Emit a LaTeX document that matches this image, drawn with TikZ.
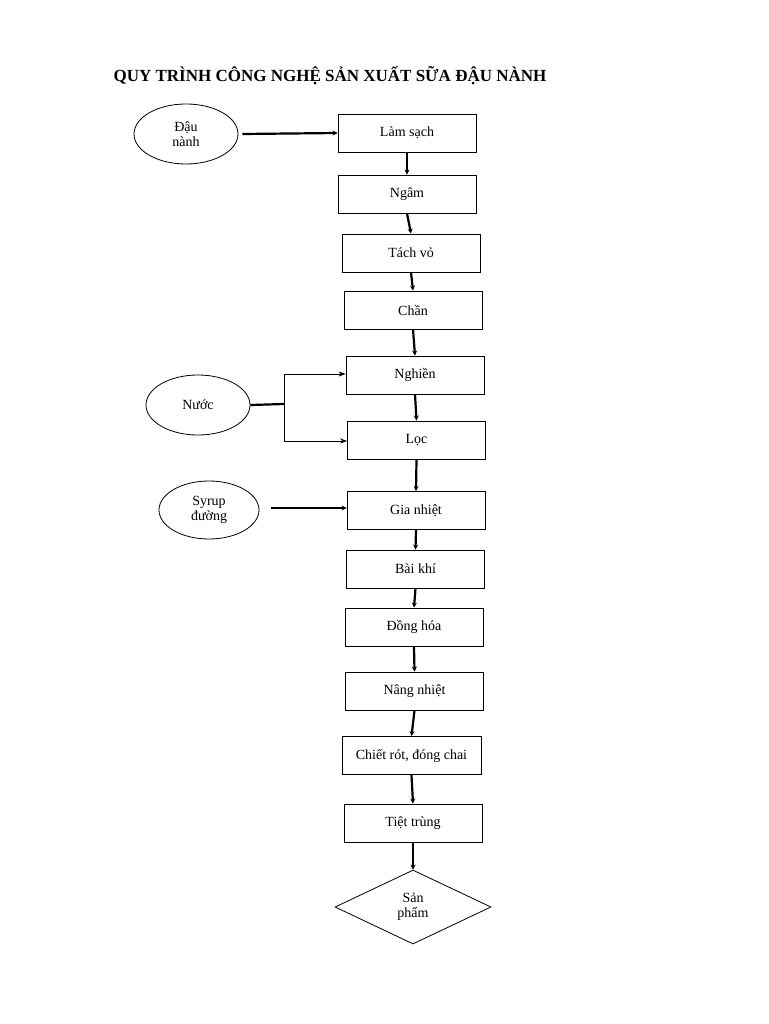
\documentclass[tikz,border=0pt]{standalone}
\usepackage{fontspec}
\setmainfont{Liberation Serif}
\usetikzlibrary{shapes.geometric,arrows.meta}
\begin{document}
\begin{tikzpicture}[x=1pt,y=-1pt,
  box/.style={draw,line width=0.8pt,minimum width=138pt,minimum height=38pt,inner sep=0pt,font=\fontsize{14}{16}\selectfont},
  ell/.style={draw,ellipse,line width=0.8pt,inner sep=0pt,align=center,font=\fontsize{14}{15}\selectfont},
  thk/.style={line width=2.2pt,-{Stealth[length=5pt,width=5pt]}},
  thn/.style={line width=0.6pt,-{Stealth[length=7pt,width=5pt]}}]
\useasboundingbox (0,0) rectangle (768,1024);
\node[anchor=base west,font=\bfseries\fontsize{17}{19}\selectfont] (title) at (110,82) {QUY TRÌNH CÔNG NGHỆ SẢN XUẤT SỮA ĐẬU NÀNH};
\node[box] (b1) at (407,133) {Làm sạch};
\node[box] (b2) at (407,194) {Ngâm};
\node[box] (b3) at (411,253) {Tách vỏ};
\node[box] (b4) at (413,310) {Chần};
\node[box] (b5) at (415,375) {Nghiền};
\node[box] (b6) at (416.5,440) {Lọc};
\node[box] (b7) at (416,510.5) {Gia nhiệt};
\node[box] (b8) at (415.5,569) {Bài khí};
\node[box] (b9) at (414,627) {Đồng hóa};
\node[box] (b10) at (414.5,691) {Nâng nhiệt};
\node[box,minimum width=139pt] (b11) at (411.5,755.5) {Chiết rót, đóng chai};
\node[box] (b12) at (413,823) {Tiệt trùng};
\node[draw,diamond,aspect=2.1,line width=0.8pt,minimum width=156pt,minimum height=74pt,inner sep=0pt,align=center,font=\fontsize{14}{15}\selectfont] (sp) at (413,907) {Sản\\phẩm};
\node[ell,minimum width=104pt,minimum height=60pt] (e1) at (186,134) {Đậu\\nành};
\node[ell,minimum width=104pt,minimum height=60pt] (e2) at (198,405) {Nước};
\node[ell,minimum width=100pt,minimum height=58pt] (e3) at (209,510) {Syrup\\đường};
\foreach \a/\b in {b1/b2,b2/b3,b3/b4,b4/b5,b5/b6,b6/b7,b7/b8,b8/b9,b9/b10,b10/b11,b11/b12,b12/sp}
  \draw[thk] (\a.south) -- (\b.north);
\draw[thk] ([xshift=4pt]e1.east) -- (b1.west);
\draw[thk] ([xshift=12pt]e3.east |- 0,508) -- (b7.west |- 0,508);
\coordinate (j) at (284,404);
\draw[line width=2.2pt] (e2.east) -- (j);
\draw[line width=0.6pt] (284,375) -- (284,441);
\draw[thn] (284,374) -- (b5.west |- 0,374);
\draw[thn] (284,441) -- (b6.west |- 0,441);
\end{tikzpicture}
\end{document}
